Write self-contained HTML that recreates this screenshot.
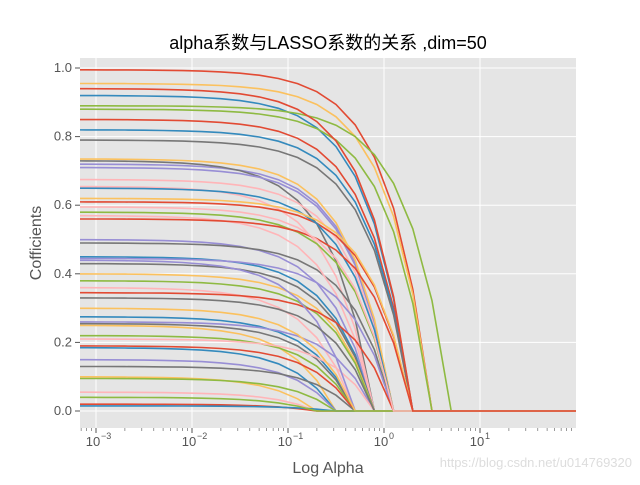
<!DOCTYPE html>
<html><head><meta charset="utf-8"><style>
body{margin:0;background:#fff;}
svg text{font-family:"Liberation Sans","Noto Sans CJK SC",sans-serif;}
</style></head><body>
<svg id="chart" width="640" height="480" xmlns="http://www.w3.org/2000/svg">
<rect width="640" height="480" fill="#fff"/>
<text x="328" y="49" font-size="18" text-anchor="middle" fill="#000">alpha系数与LASSO系数的关系 ,dim=50</text>
<rect x="80" y="58" width="496" height="370" fill="#E5E5E5"/>
<g id="grid"></g>
<g id="lines" clip-path="url(#clip)"></g>
<g id="ticks"></g>
<defs><clipPath id="clip"><rect x="80" y="58" width="496" height="370"/></clipPath></defs>
<text x="328" y="473" font-size="16" text-anchor="middle" fill="#555">Log Alpha</text>
<text x="41" y="243" font-size="16" text-anchor="middle" fill="#555" transform="rotate(-90 41 243)">Cofficients</text>
<text x="632" y="467" font-size="13" text-anchor="end" fill="#ddd">https://blog.csdn.net/u014769320</text>
</svg>
<script>
const startValues=[0.995,0.92,0.72,0.73,0.955,0.89,0.675,0.85,0.82,0.71,0.79,0.735,0.88,0.655,0.61,0.65,0.5,0.49,0.62,0.58,0.57,0.56,0.45,0.445,0.43,0.40,0.38,0.36,0.345,0.275,0.26,0.255,0.25,0.22,0.21,0.19,0.185,0.15,0.13,0.10,0.095,0.055,0.02,0.015,0.44,0.33,0.30,0.04,0.595,0.94];
const zeroAlphas=[3.1,1.95,1.25,0.79,3.1,4.95,1.25,1.95,1.95,1.25,1.95,1.25,3.1,0.79,1.95,1.25,0.79,1.25,1.95,1.25,0.79,1.95,0.79,1.25,0.79,0.79,0.79,0.49,1.25,0.49,0.79,0.49,0.31,0.49,0.79,0.49,0.31,0.31,0.49,0.195,0.31,0.195,0.195,0.31,0.49,0.79,0.49,0.195,1.25,1.95];
const xTicks=[-3,-2,-1,0,1];
const xTickLabels=["10","10","10","10","10"];
const xTickExps=["−3","−2","−1","0","1"];
const yTicks=[0,0.2,0.4,0.6,0.8,1.0];
const yTickLabels=["0.0","0.2","0.4","0.6","0.8","1.0"];
const colors=["#E24A33","#348ABD","#988ED5","#777777","#FBC15E","#8EBA42","#FFB5B8"];
const X=l=>384+96*l, Y=v=>411-343*v;
const NS="http://www.w3.org/2000/svg";
const grid=document.getElementById('grid'),ticks=document.getElementById('ticks'),lines=document.getElementById('lines');
function mk(t,a,p){const e=document.createElementNS(NS,t);for(const k in a)e.setAttribute(k,a[k]);p.appendChild(e);return e;}
xTicks.forEach((l,i)=>{
 const g=mk('line',{x1:X(l),x2:X(l),y1:58,y2:428,stroke:'#fff','stroke-width':1},grid);
 
 
 mk('line',{x1:X(l),x2:X(l),y1:428,y2:433,stroke:'#555'},ticks);
 const t=mk('text',{x:X(l)-3,y:446,'font-size':13,'text-anchor':'middle',fill:'#555'},ticks);
 
 
 t.textContent=xTickLabels[i];
 const s=mk('text',{x:X(l)+5,y:439,'font-size':9,fill:'#555'},ticks);
 
 
 s.textContent=xTickExps[i];
});
for(let d=-4;d<2;d++)for(let m=2;m<10;m++){const l=d+Math.log10(m),x=X(l);if(x<80||x>576)continue;mk('line',{x1:x,x2:x,y1:428,y2:431,stroke:'#555','stroke-width':0.6},ticks);}
yTicks.forEach((v,i)=>{
 const g=mk('line',{x1:80,x2:576,y1:Y(v),y2:Y(v),stroke:'#fff','stroke-width':1},grid);
 
 
 mk('line',{x1:75,x2:80,y1:Y(v),y2:Y(v),stroke:'#555'},ticks);
 const t=mk('text',{x:72,y:Y(v)+4,'font-size':13,'text-anchor':'end',fill:'#555'},ticks);
 
 
 t.textContent=yTickLabels[i];
});
const alphaLogs=[];for(let k=0;k<=27;k++)alphaLogs.push(-3.3+0.2*k);
startValues.forEach((c,i)=>{
 const a0=zeroAlphas[i];
 const pts=alphaLogs.map(l=>{const a=Math.pow(10,l);const v=Math.max(0,c*(1-a/a0));return X(l).toFixed(1)+','+Y(v).toFixed(1);});
 const p=mk('polyline',{points:pts.join(' '),fill:'none',stroke:colors[i%7],'stroke-width':1.6},lines);
 
 
});
</script>
</body></html>
